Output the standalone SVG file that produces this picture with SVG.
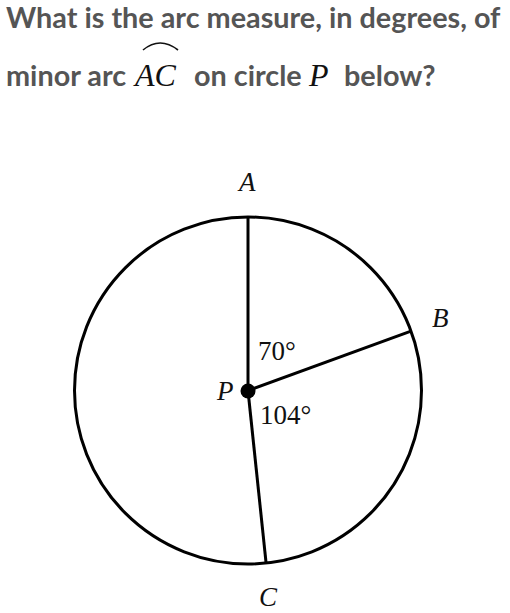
<svg xmlns="http://www.w3.org/2000/svg" width="510" height="613" viewBox="0 0 510 613">
<style>
.q{font-family:Lato,"Open Sans",sans-serif;font-weight:bold;font-size:28.8px;fill:#555555}
.m{font-family:"Liberation Serif","DejaVu Serif",serif;font-style:italic;font-size:27px;fill:#111}
.mq{font-family:"Liberation Serif","DejaVu Serif",serif;font-style:italic;font-size:32px;fill:#111}
.n{font-family:"Liberation Serif","DejaVu Serif",serif;font-size:27px;fill:#111}
.ln{stroke:#000;stroke-width:3;fill:none}
</style>
<rect width="510" height="613" fill="#fff"/>
<g id="question">
<text class="q" x="6" y="28">What is the arc measure, in degrees, of</text>
<text class="q" x="6" y="86">minor arc</text>
<text class="mq" x="135" y="86">AC</text>
<path d="M143 50 Q160 36 178 50" fill="none" stroke="#111" stroke-width="1.6"/>
<text class="q" x="194" y="86">on circle</text>
<text class="mq" x="309" y="86">P</text>
<text class="q" x="344" y="86">below?</text>
</g>
<g id="circle">
<circle class="ln" cx="248" cy="390.5" r="173.5"/>
</g>
<g id="connectors">
<line class="ln" x1="248" y1="390.5" x2="248" y2="217"/>
<line class="ln" x1="248" y1="390.5" x2="411" y2="331.2"/>
<line class="ln" x1="248" y1="390.5" x2="266.1" y2="563.1"/>
</g>
<g id="P">
<circle cx="248" cy="391" r="7.5" fill="#000"/>
<text class="m" x="217" y="400">P</text>
</g>
<g id="A"><text class="m" x="239" y="191">A</text></g>
<g id="B"><text class="m" x="432" y="327">B</text></g>
<g id="C"><text class="m" x="259" y="606">C</text></g>
<g id="angles">
<text class="n" x="258" y="360">70°</text>
<text class="n" x="260" y="424">104°</text>
</g>
</svg>
